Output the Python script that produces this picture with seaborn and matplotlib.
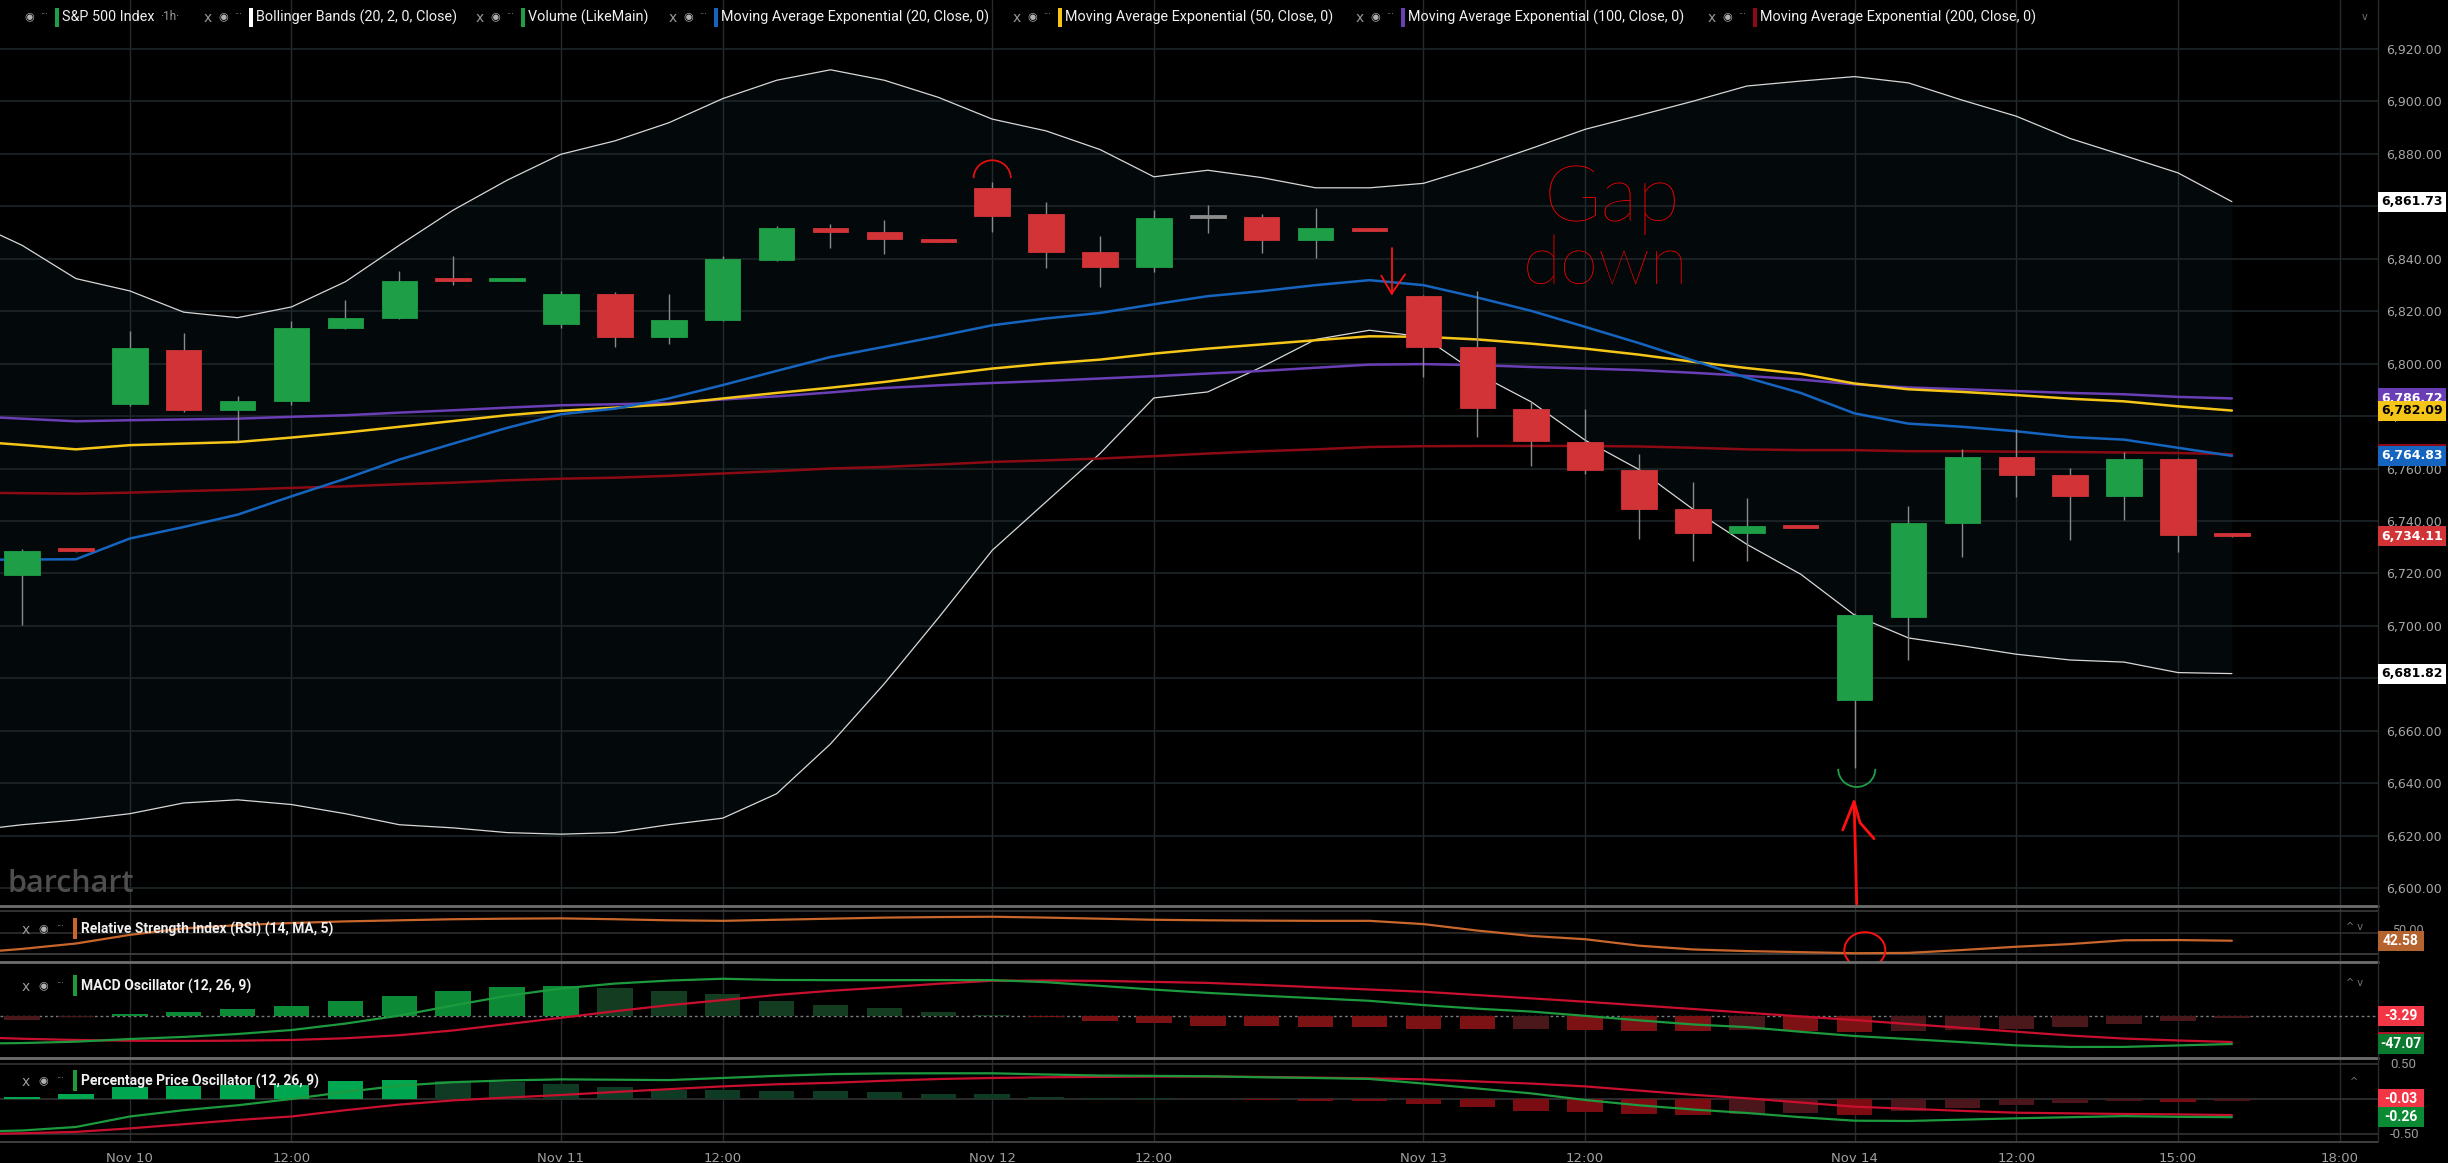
import numpy as np
import pandas as pd
import matplotlib
matplotlib.use("Agg")
import matplotlib.pyplot as plt
import matplotlib.ticker as mticker
from matplotlib import font_manager
from matplotlib.lines import Line2D
from matplotlib.patches import Rectangle, Arc, Ellipse
import seaborn as sns

# ---------------- data ----------------
# hourly bars, 8 per session; bar 0 = Nov 7 15:00, bar 41 = Nov 14 16:00
bars = list(range(42))
# indicator series start one bar earlier (bar -1, just off the left edge)
ind_bars = list(range(-1, 42))

opens = [6719.4, 6729.0, 6784.7, 6805.1, 6782.2, 6785.8, 6813.5, 6817.4, 6832.0, 6831.6,
         6815.1, 6826.7, 6810.2, 6816.5, 6839.5, 6851.5, 6850.2, 6846.8, 6867.1, 6857.0,
         6842.6, 6836.7, 6855.6, 6855.7, 6847.0, 6851.2, 6825.8, 6806.4, 6782.8, 6770.1,
         6759.6, 6744.5, 6735.5, 6738.0, 6671.8, 6703.4, 6739.1, 6764.4, 6757.7, 6749.7,
         6763.7, 6734.4]
highs = [6729.4, 6729.5, 6812.3, 6811.8, 6787.6, 6816.3, 6824.4, 6835.3, 6840.9, 6832.3,
         6827.7, 6827.2, 6826.4, 6841.1, 6852.4, 6853.1, 6854.7, 6847.0, 6869.3, 6861.5,
         6848.6, 6858.5, 6860.6, 6857.0, 6859.4, 6851.4, 6826.0, 6827.5, 6785.4, 6782.8,
         6765.4, 6754.8, 6748.6, 6738.2, 6705.0, 6745.7, 6767.3, 6774.9, 6760.3, 6766.2,
         6764.0, 6734.6]
lows = [6700.4, 6728.0, 6784.0, 6781.6, 6770.4, 6784.1, 6813.2, 6817.0, 6829.8, 6831.3,
        6813.5, 6806.4, 6807.3, 6816.3, 6839.0, 6844.2, 6841.7, 6846.2, 6850.2, 6836.6,
        6829.2, 6835.0, 6849.8, 6842.2, 6840.3, 6850.4, 6794.7, 6772.0, 6761.0, 6758.0,
        6733.3, 6724.6, 6724.6, 6737.2, 6646.0, 6687.1, 6726.4, 6749.0, 6732.6, 6740.3,
        6728.2, 6733.9]
closes = [6728.6, 6728.5, 6805.9, 6782.2, 6785.8, 6813.5, 6817.5, 6831.5, 6831.3, 6832.0,
          6826.7, 6810.2, 6816.5, 6839.8, 6851.6, 6850.2, 6847.5, 6846.3, 6856.3, 6842.6,
          6836.7, 6855.6, 6855.6, 6847.0, 6851.5, 6850.6, 6806.4, 6783.1, 6770.5, 6759.6,
          6744.5, 6735.5, 6738.1, 6737.4, 6704.0, 6739.1, 6764.3, 6757.7, 6749.7, 6763.7,
          6734.6, 6734.11]

bb_upper = [6854.7, 6845.1, 6832.4, 6827.7, 6819.6, 6817.5, 6821.6, 6831.2, 6845.1, 6858.5,
            6869.9, 6879.8, 6884.9, 6891.8, 6901.0, 6908.0, 6912.0, 6908.0, 6901.5, 6893.2,
            6888.7, 6881.6, 6871.2, 6873.7, 6870.9, 6867.0, 6867.0, 6868.7, 6875.0, 6882.0,
            6889.3, 6894.6, 6900.0, 6905.8, 6907.7, 6909.4, 6907.0, 6900.4, 6894.3, 6885.8,
            6879.3, 6872.7, 6861.73]
bb_lower = [6621.8, 6624.2, 6626.0, 6628.4, 6632.5, 6633.7, 6631.9, 6628.4, 6624.2, 6623.0,
            6621.2, 6620.6, 6621.2, 6624.2, 6626.7, 6636.0, 6655.0, 6678.0, 6703.0, 6728.8,
            6747.3, 6765.7, 6786.9, 6789.2, 6798.7, 6809.2, 6812.7, 6810.2, 6796.2, 6785.4,
            6770.8, 6759.6, 6744.5, 6731.1, 6719.7, 6704.1, 6695.4, 6692.4, 6689.2, 6687.0,
            6686.2, 6682.2, 6681.82]

ema20 = [6725.2, 6725.3, 6725.4, 6733.3, 6737.7, 6742.4, 6749.4, 6756.1, 6763.4, 6769.5,
         6775.5, 6780.7, 6782.8, 6786.7, 6791.8, 6797.2, 6802.5, 6806.4, 6810.4, 6814.6,
         6817.2, 6819.3, 6822.6, 6825.7, 6827.6, 6829.9, 6831.8, 6829.9, 6825.2, 6820.1,
         6814.0, 6807.8, 6801.2, 6794.6, 6788.8, 6781.0, 6777.1, 6775.9, 6774.2, 6772.0,
         6771.0, 6767.9, 6764.83]
ema50 = [6770.5, 6769.0, 6767.3, 6768.9, 6769.5, 6770.1, 6771.8, 6773.7, 6775.9, 6778.1,
         6780.3, 6782.0, 6783.2, 6784.5, 6786.7, 6788.8, 6790.8, 6793.0, 6795.6, 6798.1,
         6800.0, 6801.5, 6803.8, 6805.7, 6807.3, 6808.9, 6810.4, 6810.2, 6809.2, 6807.6,
         6805.7, 6803.4, 6800.7, 6798.3, 6796.1, 6792.4, 6790.2, 6789.2, 6788.0, 6786.6,
         6785.6, 6783.7, 6782.09]
ema100 = [6780.0, 6779.0, 6778.0, 6778.4, 6778.7, 6779.0, 6779.7, 6780.3, 6781.3, 6782.2,
          6783.2, 6784.1, 6784.5, 6785.0, 6786.3, 6787.5, 6789.0, 6790.7, 6791.7, 6792.6,
          6793.4, 6794.3, 6795.2, 6796.2, 6797.2, 6798.4, 6799.6, 6799.8, 6799.4, 6798.7,
          6798.1, 6797.5, 6796.5, 6795.3, 6793.9, 6792.1, 6790.9, 6790.2, 6789.5, 6788.8,
          6788.3, 6787.3, 6786.72]
ema200 = [6750.8, 6750.6, 6750.4, 6750.8, 6751.4, 6751.9, 6752.6, 6753.2, 6754.0, 6754.6,
          6755.5, 6756.1, 6756.5, 6757.2, 6758.1, 6759.0, 6760.0, 6760.6, 6761.5, 6762.5,
          6763.1, 6763.8, 6764.7, 6765.7, 6766.6, 6767.3, 6768.2, 6768.5, 6768.6, 6768.6,
          6768.6, 6768.4, 6767.9, 6767.3, 6767.0, 6767.0, 6766.6, 6766.6, 6766.4, 6766.3,
          6766.1, 6765.9, 6765.40]

rsi = [31.0, 35.0, 40.0, 48.0, 54.0, 57.0, 59.0, 60.5, 61.5, 62.5, 63.0, 63.3, 62.5, 61.5,
       61.0, 62.0, 63.0, 64.0, 64.5, 64.8, 64.0, 63.0, 62.0, 61.5, 61.2, 61.0, 61.0, 58.0,
       52.0, 47.0, 44.0, 38.0, 34.5, 33.0, 32.0, 31.0, 31.3, 34.0, 37.0, 39.5, 43.0, 43.2,
       42.58]

macd_line = [-46.5, -45.5, -43.2, -38.8, -35.3, -30.4, -23.8, -13.1, 0.2, 17.1, 33.1, 45.3,
             53.5, 58.5, 61.5, 59.5, 59.2, 59.2, 59.3, 59.3, 55.8, 49.7, 43.5, 38.0, 33.4,
             29.1, 24.8, 17.7, 11.7, 6.9, -0.2, -7.7, -14.5, -19.0, -26.7, -33.8, -38.8,
             -44.0, -49.3, -52.0, -51.9, -49.5, -47.07]
macd_signal = [-35.5, -38.3, -40.4, -41.6, -42.0, -41.5, -40.4, -37.5, -32.5, -24.5, -14.0,
               -3.5, 7.5, 17.5, 26.0, 34.5, 41.5, 47.0, 53.2, 58.2, 58.6, 58.0, 56.3, 54.6,
               51.2, 47.4, 43.6, 39.9, 34.4, 28.9, 23.3, 17.3, 11.2, 5.0, -1.2, -7.2, -13.8,
               -20.2, -26.6, -33.0, -38.0, -41.2, -43.78]
macd_hist = [-7.2, -2.8, 2.8, 6.7, 11.1, 16.6, 24.4, 32.7, 41.6, 47.1, 48.8, 46.0, 41.0,
             35.5, 25.0, 17.7, 12.2, 6.1, 1.1, -2.8, -8.3, -12.8, -16.6, -17.8, -18.3, -18.8,
             -22.2, -22.7, -22.0, -23.5, -25.0, -25.7, -24.0, -25.5, -26.6, -25.0, -23.8,
             -22.7, -19.0, -13.9, -8.3, -3.29]

ppo_line = [-0.47, -0.45, -0.40, -0.25, -0.16, -0.09, 0.0, 0.10, 0.19, 0.24, 0.265, 0.28,
            0.275, 0.27, 0.30, 0.33, 0.355, 0.365, 0.367, 0.367, 0.35, 0.335, 0.33, 0.325,
            0.31, 0.30, 0.286, 0.22, 0.15, 0.08, -0.014, -0.09, -0.15, -0.20, -0.26, -0.31,
            -0.314, -0.295, -0.276, -0.26, -0.245, -0.255, -0.26]
ppo_signal = [-0.50, -0.49, -0.47, -0.42, -0.36, -0.30, -0.25, -0.16, -0.08, -0.02, 0.02,
              0.057, 0.10, 0.14, 0.18, 0.21, 0.23, 0.26, 0.285, 0.30, 0.31, 0.315, 0.32,
              0.32, 0.315, 0.305, 0.295, 0.28, 0.25, 0.22, 0.18, 0.12, 0.06, 0.01, -0.05,
              -0.11, -0.14, -0.17, -0.196, -0.205, -0.214, -0.22, -0.23]
ppo_hist = [0.024, 0.071, 0.167, 0.19, 0.20, 0.205, 0.257, 0.271, 0.257, 0.248, 0.214,
            0.167, 0.129, 0.125, 0.114, 0.110, 0.095, 0.071, 0.068, 0.033, 0.014, 0.010,
            0.005, -0.014, -0.024, -0.029, -0.071, -0.119, -0.167, -0.19, -0.214, -0.229,
            -0.214, -0.205, -0.229, -0.167, -0.124, -0.086, -0.062, -0.029, -0.038, -0.03]

tick_pos = [2, 5, 10, 13, 18, 21, 26, 29, 34, 37, 40, 43]
tick_labels = ["Nov 10", "12:00", "Nov 11", "12:00", "Nov 12", "12:00",
               "Nov 13", "12:00", "Nov 14", "12:00", "15:00", "18:00"]
price_ticks = list(range(6600, 6921, 20))

legend_names = ["S&P 500 Index", "Bollinger Bands (20, 2, 0, Close)", "Volume (LikeMain)",
                "Moving Average Exponential (20, Close, 0)",
                "Moving Average Exponential (50, Close, 0)",
                "Moving Average Exponential (100, Close, 0)",
                "Moving Average Exponential (200, Close, 0)"]
panel_names = ["Relative Strength Index (RSI) (14, MA, 5)", "MACD Oscillator (12, 26, 9)",
               "Percentage Price Oscillator (12, 26, 9)"]

# ---------------- style ----------------
W, H = 2448, 1163
UP, DOWN, DOJI = "#1f9e48", "#d23337", "#8c8c8c"
C20, C50, C100, C200 = "#1565c0", "#f5c518", "#6a3fb5", "#8b0a14"

sns.set_theme(style="dark")
names = {f.name for f in font_manager.fontManager.ttflist}
if "Liberation Sans Narrow" in names:
    NARROW, LEG_SIZE, LBL_SIZE = "Liberation Sans Narrow", 11.5, 10.5
else:
    NARROW, LEG_SIZE, LBL_SIZE = "Roboto", 10.4, 10.0
HAND = "Lato" if "Lato" in names else "DejaVu Sans"
plt.rcParams["font.family"] = ["DejaVu Sans"]
plt.rcParams["axes.unicode_minus"] = False

fig = plt.figure(figsize=(W / 100, H / 100), dpi=100, facecolor="black")


def fx(px):
    return px / W


def fy(py):
    return 1 - py / H


XL, XR = -22 / 53.9, (2378 - 22) / 53.9


def panel(top, bottom):
    ax = fig.add_axes([0, fy(bottom), fx(2378), (bottom - top) / H])
    ax.set_facecolor("black")
    for s in ax.spines.values():
        s.set_visible(False)
    ax.set_xticks(tick_pos)
    ax.tick_params(axis="both", length=0, labelbottom=False, labelleft=False)
    ax.grid(axis="x", color="#232b2f", lw=1.0)
    ax.grid(axis="y", visible=False)
    ax.set_axisbelow(True)
    return ax


ax = panel(0, 905)
ax_rsi = panel(908, 961)
ax_macd = panel(962, 1057)
ax_ppo = panel(1059, 1141)

# ---------------- main price panel ----------------
ax.fill_between(ind_bars, bb_lower, bb_upper, color="#03080a", lw=0, zorder=0.2)
bb_df = pd.DataFrame({"bar": ind_bars, "upper": bb_upper, "lower": bb_lower}).melt(
    "bar", var_name="band", value_name="price")
sns.lineplot(data=bb_df, x="bar", y="price", units="band", estimator=None,
             color="#d8d8d8", lw=0.9, ax=ax, zorder=2)

ema_df = pd.DataFrame({"bar": ind_bars, "EMA 200": ema200, "EMA 100": ema100,
                       "EMA 50": ema50, "EMA 20": ema20}).melt(
    "bar", var_name="series", value_name="price")
sns.lineplot(data=ema_df, x="bar", y="price", hue="series",
             hue_order=["EMA 200", "EMA 100", "EMA 50", "EMA 20"],
             palette={"EMA 20": C20, "EMA 50": C50, "EMA 100": C100, "EMA 200": C200},
             lw=1.8, legend=False, ax=ax, zorder=3)

o, h, l, c = map(np.array, (opens, highs, lows, closes))
body_col = np.where(c > o, UP, np.where(c < o, DOWN, DOJI))
ax.vlines(bars, l, h, color="#8a8a8a", lw=1.0, zorder=4)
ax.bar(bars, np.maximum(np.abs(c - o), 1.2), bottom=np.minimum(o, c), width=0.66,
       color=body_col, edgecolor=body_col, lw=0.6, zorder=5)

ax.set_ylim(6593.6, 6938.6)
ax.set_yticks(price_ticks)
ax.grid(axis="y", color="#1d2629", lw=1.2)
ax.yaxis.tick_right()
ax.yaxis.set_major_formatter(mticker.FuncFormatter(lambda v, p: f"{v:,.2f}"))
ax.tick_params(axis="y", labelright=True, labelleft=False, pad=6, labelsize=9,
               labelcolor="#a8a8a8")

# hand-drawn marks
ax.add_patch(Arc((18, 6870.7), 0.69, 13.6, theta1=0, theta2=180, color="#e01010",
                 lw=1.3, zorder=7))
ax.add_patch(Arc((34.04, 6645.5), 0.69, 13.8, theta1=180, theta2=360, color="#1f9e48",
                 lw=1.3, zorder=7))
ax.plot([25.41, 25.41], [6843.9, 6826.7], color="#ff1010", lw=1.3, zorder=7)
ax.plot([25.22, 25.41, 25.66], [6833.5, 6826.7, 6834.0], color="#ff1010", lw=1.3, zorder=7)
ax.plot([34.04, 33.99], [6594.0, 6633.0], color="#ff1010", lw=2.0, zorder=7, clip_on=False)
ax.plot([33.78, 33.99, 34.1, 34.36], [6622.2, 6633.0, 6625.0, 6618.9], color="#ff1010",
        lw=2.0, zorder=7)
fig.text(fx(1612), fy(200), "Gap", color="#ff0000", fontsize=56, family=HAND,
         fontweight="light", ha="center", va="center")
fig.text(fx(1606), fy(266), "down", color="#ff0000", fontsize=50, family=HAND,
         fontweight="light", ha="center", va="center")
fig.text(fx(8), fy(884), "barchart", color="#4e4e4e", fontsize=22, family="Open Sans",
         fontweight="semibold", ha="left", va="center")

# ---------------- RSI ----------------
sns.lineplot(x=ind_bars, y=rsi, color="#c8662c", lw=1.6, ax=ax_rsi, zorder=3)
for lvl, col in [(70, "#3c3c3c"), (50, "#2e2e2e"), (30, "#444444")]:
    ax_rsi.axhline(lvl, color=col, lw=1.2, zorder=1)
ax_rsi.set_ylim(23.8, 72.9)
ax_rsi.add_patch(Ellipse((34.19, 34.0), 0.76, 33.0, fill=False, edgecolor="#ff1010",
                         lw=1.4, zorder=7, clip_on=False))


# ---------------- MACD / PPO ----------------
def hist_colors(vals, up_rise, up_fall, dn_fall, dn_rise):
    v = np.array(vals)
    prev = np.concatenate([[v[0]], v[:-1]])
    return np.where(v >= 0, np.where(v >= prev, up_rise, up_fall),
                    np.where(v < prev, dn_fall, dn_rise))


ax_macd.bar(bars, macd_hist, width=0.66, zorder=2, lw=0, edgecolor="none",
            color=hist_colors(macd_hist, "#0d8a35", "#143c21", "#7c1214", "#4a171b"))
ax_macd.axhline(0, color="#7a7a7a", lw=1.0, ls=(0, (2, 2)), zorder=1)
sns.lineplot(x=ind_bars, y=macd_signal, color="#c8102e", lw=1.6, ax=ax_macd, zorder=3)
sns.lineplot(x=ind_bars, y=macd_line, color="#1d9a3e", lw=1.6, ax=ax_macd, zorder=3)
ax_macd.set_ylim(-68.7, 89.4)

ax_ppo.bar(bars, ppo_hist, width=0.66, zorder=2, lw=0, edgecolor="none",
           color=hist_colors(ppo_hist, "#00a650", "#0f3b24", "#7a0c12", "#4a161b"))
for lvl in (0.5, 0, -0.5):
    ax_ppo.axhline(lvl, color="#333333", lw=1.2, zorder=1)
sns.lineplot(x=ind_bars, y=ppo_signal, color="#c8102e", lw=1.6, ax=ax_ppo, zorder=3)
sns.lineplot(x=ind_bars, y=ppo_line, color="#1d9a3e", lw=1.6, ax=ax_ppo, zorder=3)
ax_ppo.set_ylim(-0.6, 0.571)
ax_ppo.set_xticklabels(tick_labels)
ax_ppo.tick_params(axis="x", labelbottom=True, pad=8, labelsize=9.5, labelcolor="#a0a0a0")

for a in (ax, ax_rsi, ax_macd, ax_ppo):
    a.set_xlim(XL, XR)
    a.set_xlabel("")
    a.set_ylabel("")

# ---------------- separators ----------------
for py, col, lw in [(906, "#6e6e6e", 2.0), (961.5, "#6e6e6e", 2.0), (1057.5, "#6e6e6e", 2.0),
                    (1141.5, "#4a4a4a", 1.2)]:
    fig.add_artist(Line2D([0, fx(2378)], [fy(py), fy(py)], color=col, lw=lw))
fig.add_artist(Line2D([fx(2378), fx(2378)], [fy(0), fy(1141)], color="#2a2a2a", lw=1.0))

# ---------------- value boxes ----------------
box_z = [10]


def value_box(a, val, text, face, tcol, x0=2378, x1=2446, hpx=20, size=9, fam="DejaVu Sans"):
    ypx = a.transData.transform((0, val))[1]
    z = box_z[0]
    box_z[0] += 1
    fig.add_artist(Rectangle((fx(x0), (ypx - hpx / 2) / H), (x1 - x0) / W, hpx / H,
                             facecolor=face, edgecolor="none", transform=fig.transFigure,
                             zorder=z))
    if text:
        t = fig.text(fx((x0 + x1) / 2), ypx / H, text, color=tcol, fontsize=size, family=fam,
                     fontweight="bold", ha="center", va="center")
        t.set_zorder(z + 0.5)


value_box(ax, bb_upper[-1], f"{bb_upper[-1]:,.2f}", "white", "black")
value_box(ax, ema100[-1], f"{ema100[-1]:,.2f}", C100, "white")
value_box(ax, ema50[-1], f"{ema50[-1]:,.2f}", C50, "black")
value_box(ax, ema200[-1], "", C200, "white")
value_box(ax, ema20[-1], f"{ema20[-1]:,.2f}", C20, "white")
value_box(ax, closes[-1], f"{closes[-1]:,.2f}", DOWN, "white")
value_box(ax, bb_lower[-1], f"{bb_lower[-1]:,.2f}", "white", "black")

fig.text(fx(2392), fy(931), "50.00", color="#9a9a9a", fontsize=9, family=NARROW, va="center")
value_box(ax_rsi, rsi[-1], f"{rsi[-1]:.2f}", "#b5632f", "white", x1=2424, size=10, fam=NARROW)
value_box(ax_macd, 0, f"{macd_hist[-1]:.2f}", "#f23645", "white", x1=2424, size=10, fam=NARROW)
value_box(ax_macd, macd_signal[-1], "", "#b0102a", "white", x1=2424)
value_box(ax_macd, macd_line[-1], f"{macd_line[-1]:.2f}", "#0b7a2f", "white", x1=2424,
          size=10, fam=NARROW)
fig.text(fx(2390), fy(1064), "0.50", color="#9a9a9a", fontsize=9.5, family=NARROW, va="center")
fig.text(fx(2390), fy(1134), "-0.50", color="#9a9a9a", fontsize=9.5, family=NARROW, va="center")
value_box(ax_ppo, 0, f"{ppo_hist[-1]:.2f}", "#f23645", "white", x1=2424, size=10, fam=NARROW)
value_box(ax_ppo, ppo_line[-1], f"{ppo_line[-1]:.2f}", "#0b8a34", "white", x1=2424,
          size=10, fam=NARROW)

# ---------------- legend rows ----------------
legend_x = [62, 256, 528, 721, 1065, 1408, 1760]
legend_cols = [UP, "#ffffff", UP, C20, C50, C100, C200]
for i, (name, tx, col) in enumerate(zip(legend_names, legend_x, legend_cols)):
    if i > 0:
        fig.text(fx(tx - 52), fy(18), "x", color="#9a9a9a", fontsize=10, va="center")
    fig.text(fx(tx - 38), fy(17), "\u25c9", color="#b0b0b0", fontsize=8, va="center")
    fig.text(fx(tx - 22), fy(15), "\u00b7\u00b7\u00b7", color="#b0b0b0", fontsize=6, va="center")
    fig.add_artist(Rectangle((fx(tx - 7), fy(27)), 4 / W, 19 / H, facecolor=col,
                             edgecolor="none", transform=fig.transFigure))
    fig.text(fx(tx), fy(17), name, color="#f0f0f0", fontsize=LEG_SIZE, family=NARROW,
             va="center")
fig.text(fx(160), fy(17), "\u00b71h\u00b7", color="#9a9a9a", fontsize=8.5, family=NARROW,
         va="center")
fig.text(fx(2362), fy(17), "v", color="#777777", fontsize=7, va="center")

panel_y = [929, 986, 1081]
panel_cols = ["#c8662c", "#1d9a3e", "#1d9a3e"]
for name, py, col in zip(panel_names, panel_y, panel_cols):
    fig.text(fx(22), fy(py + 1), "x", color="#9a9a9a", fontsize=10, va="center")
    fig.text(fx(38), fy(py), "\u25c9", color="#b0b0b0", fontsize=8, va="center")
    fig.text(fx(56), fy(py - 2), "\u00b7\u00b7\u00b7", color="#b0b0b0", fontsize=6, va="center")
    fig.add_artist(Rectangle((fx(73), fy(py + 10)), 4 / W, 21 / H, facecolor=col,
                             edgecolor="none", transform=fig.transFigure))
    fig.text(fx(81), fy(py), name, color="#f0f0f0", fontsize=LBL_SIZE, family=NARROW,
             fontweight="bold", va="center")
for py in (929, 985):
    fig.text(fx(2346), fy(py - 2), "^ v", color="#777777", fontsize=7, va="center")
fig.text(fx(2350), fy(1082), "^", color="#777777", fontsize=7, va="center")

fig.savefig("out.png", dpi=100, facecolor="black")
